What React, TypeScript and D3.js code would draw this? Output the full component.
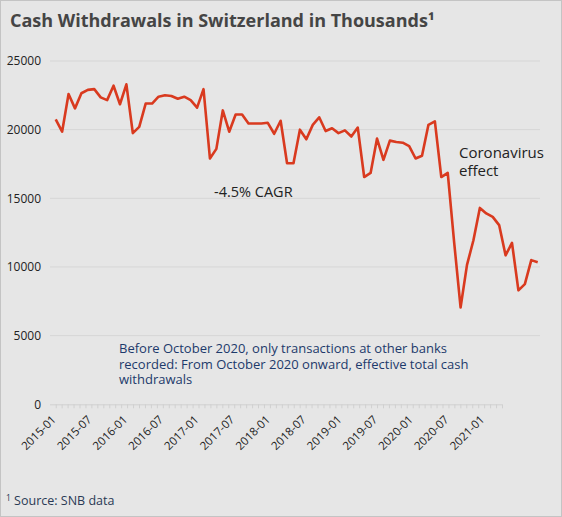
import React, { useEffect, useRef } from 'react';
import * as d3 from 'd3';

// monthly cash withdrawals, 2015-01 .. 2021-04 (thousands)
const withdrawals: number[] = [
  20750, 19850, 22600, 21550, 22650, 22900, 22950, 22350, 22150, 23200, 21850, 23300,
  19750, 20200, 21900, 21900, 22400, 22500, 22450, 22250, 22400, 22150, 21600, 22950,
  17900, 18600, 21400, 19850, 21100, 21100, 20450, 20450, 20450, 20500, 19700, 20650,
  17550, 17550, 20000, 19300, 20350, 20900, 19900, 20100, 19750, 19950, 19500, 20150,
  16550, 16850, 19350, 17800, 19200, 19100, 19050, 18800, 17900, 18100, 20350, 20600,
  16550, 16850, 11800, 7050, 10150, 11950, 14300, 13900, 13650, 13050, 10850, 11750,
  8300, 8750, 10500, 10350,
];

const yTicks: number[] = [0, 5000, 10000, 15000, 20000, 25000];
const tickLabels: string[] = [
  '2015-01', '2015-07', '2016-01', '2016-07', '2017-01', '2017-07', '2018-01',
  '2018-07', '2019-01', '2019-07', '2020-01', '2020-07', '2021-01',
];
const noteLines: string[] = [
  'Before October 2020, only transactions at other banks',
  'recorded: From October 2020 onward, effective total cash',
  'withdrawals',
];

const FONT = '"Open Sans", sans-serif';

export default function App() {
  const svgRef = useRef<SVGSVGElement>(null);

  useEffect(() => {
    if (!svgRef.current) return;
    const svg = d3.select(svgRef.current);
    svg.selectAll('*').remove();

    const W = 562;
    const H = 517;

    svg.append('rect')
      .attr('x', 0.5).attr('y', 0.5)
      .attr('width', W - 1).attr('height', H - 1)
      .attr('fill', '#e6e6e6')
      .attr('stroke', '#c4c4c4');

    // scales
    const x = d3.scaleLinear().domain([0, withdrawals.length - 1]).range([55.7, 537.7]);
    const xTick = d3.scaleLinear().domain([0, 75]).range([55.7, 502]);
    const y = d3.scaleLinear().domain([0, 25000]).range([404.3, 61]);

    // title
    svg.append('text')
      .attr('x', 10).attr('y', 27)
      .attr('font-family', FONT)
      .attr('font-weight', 'bold')
      .attr('font-size', 18)
      .attr('fill', '#454545')
      .text('Cash Withdrawals in Switzerland in Thousands¹');

    // grid
    svg.append('g')
      .selectAll('line')
      .data(yTicks.filter(d => d > 0))
      .join('line')
      .attr('x1', 50).attr('x2', 540)
      .attr('y1', d => y(d)).attr('y2', d => y(d))
      .attr('stroke', '#d6d6d6');

    // y labels
    svg.append('g')
      .selectAll('text')
      .data(yTicks)
      .join('text')
      .attr('x', 41)
      .attr('y', d => y(d))
      .attr('dy', '0.35em')
      .attr('text-anchor', 'end')
      .attr('font-family', FONT)
      .attr('font-size', 12)
      .attr('fill', '#222')
      .text(d => String(d));

    // x axis with monthly ticks
    const xAxis = svg.append('g')
      .attr('transform', `translate(0,${y(0)})`)
      .call(d3.axisBottom(xTick).tickValues(d3.range(76)).tickSize(4).tickFormat(() => ''));
    xAxis.select('.domain').attr('stroke', '#d0d0d0').attr('d', `M50,0.5H502`);
    xAxis.selectAll('.tick line').attr('stroke', '#d0d0d0');

    svg.append('g')
      .selectAll('text')
      .data(tickLabels)
      .join('text')
      .attr('transform', (_, i) => `translate(${xTick(i * 6) + 1},${y(0) + 16}) rotate(-45)`)
      .attr('text-anchor', 'end')
      .attr('font-family', FONT)
      .attr('font-size', 11.5)
      .attr('fill', '#222')
      .text(d => d);

    // line
    const line = d3.line<number>()
      .x((_, i) => x(i))
      .y(d => y(d));

    svg.append('path')
      .datum(withdrawals)
      .attr('fill', 'none')
      .attr('stroke', '#d93a1f')
      .attr('stroke-width', 2.6)
      .attr('stroke-linejoin', 'round')
      .attr('d', line);

    // annotations
    svg.append('text')
      .attr('x', 214).attr('y', 197)
      .attr('font-family', FONT)
      .attr('font-size', 14.5)
      .attr('fill', '#222')
      .text('-4.5% CAGR');

    const corona = svg.append('text')
      .attr('font-family', FONT)
      .attr('font-size', 15)
      .attr('fill', '#222');
    corona.append('tspan').attr('x', 459).attr('y', 158).text('Coronavirus');
    corona.append('tspan').attr('x', 459).attr('y', 176).text('effect');

    const note = svg.append('text')
      .attr('font-family', FONT)
      .attr('font-size', 13)
      .attr('fill', '#1d3a6b');
    noteLines.forEach((t, i) => {
      note.append('tspan').attr('x', 119).attr('y', 353 + i * 15.5).text(t);
    });

    // footnote
    const foot = svg.append('text')
      .attr('x', 6).attr('y', 505)
      .attr('font-family', FONT)
      .attr('font-size', 12.5)
      .attr('fill', '#2a3a55');
    foot.append('tspan').attr('font-size', 8.5).attr('dy', -4).text('1');
    foot.append('tspan').attr('dy', 4).text(' Source: SNB data');
  }, []);

  return (
    <>
      <style>{'body{margin:0}'}</style>
      <svg ref={svgRef} width={562} height={517} style={{ display: 'block' }} />
    </>
  );
}
